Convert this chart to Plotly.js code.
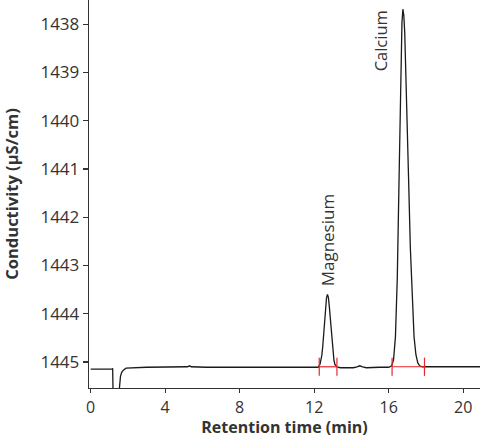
<!DOCTYPE html>
<html>
<head>
<meta charset="utf-8">
<script src="https://cdn.plot.ly/plotly-3.0.1.min.js"></script>
<style>
  html, body { margin: 0; padding: 0; background: #fff; }
  #chart { width: 480px; height: 438px; }
</style>
</head>
<body>
<div id="chart"></div>
<script>
// Chromatogram (time in min, conductivity in µS/cm)
const retentionTime = [
    0, 1.15, 1.18, 1.20, 1.53, 1.56, 1.60, 1.66, 1.75, 1.9, 2.3, 3.0,
    5.2, 5.3, 5.4, 6.2, 8.0, 12.0,
    12.1, 12.21, 12.31, 12.36, 12.41, 12.46, 12.51, 12.56, 12.61, 12.66, 12.71,
    12.76, 12.81, 12.86, 12.91, 12.96, 13.01, 13.06, 13.11, 13.21, 13.4,
    14.1, 14.3, 14.44, 14.6, 14.8, 15.5,
    16.0, 16.16, 16.26, 16.36, 16.46, 16.56, 16.66, 16.71, 16.76,
    16.81, 16.86, 16.96, 17.06, 17.16, 17.26, 17.36, 17.46, 17.56, 17.66, 17.8,
    18.5, 20.9
];
const conductivity = [
    1445.15, 1445.15, 1445.13, 1445.60, 1445.60, 1445.42, 1445.30, 1445.22, 1445.17, 1445.13, 1445.12, 1445.11,
    1445.10, 1445.08, 1445.10, 1445.11, 1445.11, 1445.12,
    1445.12, 1445.11, 1445.05, 1444.98, 1444.86, 1444.67, 1444.42, 1444.14, 1443.87, 1443.67, 1443.60,
    1443.66, 1443.85, 1444.11, 1444.39, 1444.64, 1444.84, 1444.97, 1445.05, 1445.10, 1445.12,
    1445.12, 1445.10, 1445.08, 1445.10, 1445.12, 1445.11,
    1445.11, 1445.08, 1444.95, 1444.48, 1443.26, 1441.11, 1438.75, 1437.97, 1437.69,
    1437.82, 1438.18, 1439.47, 1441.11, 1442.63, 1443.77, 1444.48, 1444.85, 1445.02, 1445.08, 1445.10,
    1445.10, 1445.10
];

// Integration limits (red markers)
const mgLimits = [12.27, 13.22];
const caLimits = [16.18, 17.92];
const integrationBase = [1445.10, 1445.10];

// Peak labels
const peakNames = ['Magnesium', 'Calcium'];
const peakTimes = [12.71, 15.55];
const peakLevels = [1443.60, 1438.35];

const xTicks = [0, 4, 8, 12, 16, 20];
const yTicks = [1438, 1439, 1440, 1441, 1442, 1443, 1444, 1445];

const FONT = 'Open Sans, Arial, sans-serif';
const INK = '#333333';

function limitTrace(xs) {
    return {
        type: 'scatter',
        mode: 'lines+markers',
        x: xs,
        y: integrationBase,
        line: { color: '#e8262b', width: 1.2 },
        marker: { symbol: 'line-ns', size: 13, line: { color: '#e8262b', width: 1.2 } },
        hoverinfo: 'skip',
        showlegend: false
    };
}

const traces = [
    {
        type: 'scatter',
        mode: 'lines',
        x: retentionTime,
        y: conductivity,
        line: { color: '#1a1a1a', width: 1.3 },
        showlegend: false
    },
    limitTrace(mgLimits),
    limitTrace(caLimits)
];

const annotations = [
    {
        x: peakTimes[0], y: peakLevels[0],
        text: peakNames[0], textangle: -90,
        showarrow: false, xanchor: 'center', yanchor: 'bottom', yshift: 6,
        font: { family: FONT, size: 17, color: INK }
    },
    {
        x: peakTimes[1], y: peakLevels[1],
        text: peakNames[1], textangle: -90,
        showarrow: false, xanchor: 'center', yanchor: 'middle',
        font: { family: FONT, size: 16.5, color: INK }
    }
];

const layout = {
    width: 480,
    height: 438,
    margin: { l: 89, r: 0, t: 0, b: 50 },
    paper_bgcolor: '#ffffff',
    plot_bgcolor: '#ffffff',
    font: { family: FONT, color: INK },
    xaxis: {
        range: [-0.09, 20.9],
        tickvals: xTicks,
        ticks: 'outside', ticklen: 4, tickwidth: 1.2, tickcolor: INK,
        showline: true, linecolor: INK, linewidth: 1.3,
        showgrid: false, zeroline: false,
        tickfont: { family: FONT, size: 16, color: INK },
        title: { text: '<b>Retention time (min)</b>', font: { family: FONT, size: 16, color: INK }, standoff: 11 }
    },
    yaxis: {
        range: [1445.54, 1437.5],
        tickvals: yTicks,
        ticks: 'outside', ticklen: 5, tickwidth: 1.2, tickcolor: INK,
        showline: true, linecolor: INK, linewidth: 1.3,
        showgrid: false, zeroline: false,
        tickfont: { family: FONT, size: 17, color: INK },
        title: { text: '<b>Conductivity (µS/cm)</b>', font: { family: FONT, size: 16.5, color: INK }, standoff: 25 }
    },
    annotations: annotations,
    showlegend: false
};

Plotly.newPlot('chart', traces, layout, { displayModeBar: false, staticPlot: true });
</script>
</body>
</html>
